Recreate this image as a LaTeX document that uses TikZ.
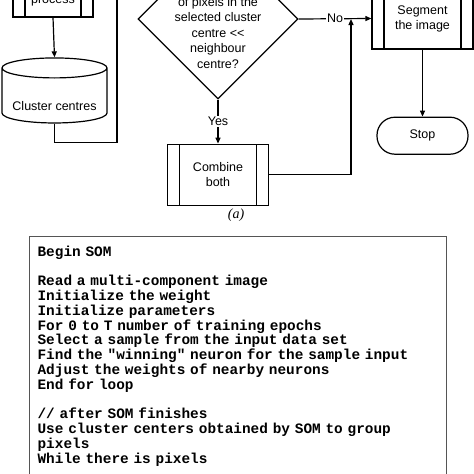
\documentclass[tikz,border=0pt]{standalone}
\usepackage{fontspec}
\setmainfont{Liberation Sans}[Ligatures=TeXOff]
\newfontfamily\codefont{Liberation Mono}[Ligatures=TeXOff]
\newfontfamily\capfont{Liberation Serif}
\usetikzlibrary{shapes.geometric, arrows.meta, positioning}
\definecolor{boxgray}{RGB}{85, 85, 85}

\begin{document}
\begin{tikzpicture}[
    x=1pt, y=-1pt,
    line width=1.2pt,
    flowtext/.style={font=\fontsize{12.5}{15}\selectfont, align=center},
    subproc/.style={draw, rectangle, flowtext, minimum width=101pt, minimum height=61pt, inner sep=0pt,
        path picture={
            \draw ([xshift=12pt]path picture bounding box.north west) -- ([xshift=12pt]path picture bounding box.south west);
            \draw ([xshift=-12pt]path picture bounding box.north east) -- ([xshift=-12pt]path picture bounding box.south east);
        }},
    store/.style={draw, cylinder, shape border rotate=90, aspect=0.22, flowtext, minimum width=105pt, inner ysep=0pt, text height=31.5pt, text depth=6.5pt},
    decision/.style={draw, diamond, minimum width=160pt, minimum height=160pt, inner sep=0pt},
    term/.style={draw, rectangle, rounded corners=18pt, flowtext, minimum width=91pt, minimum height=37pt},
    codebox/.style={anchor=north west, align=left, text width=400pt, inner xsep=8pt, inner ysep=9pt,
        font=\codefont\bfseries\fontsize{14.4}{14.8}\selectfont},
    arrow/.style={-{Triangle[length=6pt, width=5pt]}}
]
    \useasboundingbox (0,0) rectangle (474,474);
    \clip (0,0) rectangle (474,474);

    % Nodes - left column
    \node[subproc, minimum width=80pt, minimum height=0pt, text height=45pt, text depth=14pt, anchor=base] (proc) at (53,3) {process};
    \node[store, anchor=base] (cyl) at (54.5,110) {Cluster centres};

    % Nodes - decision and its branches
    \node[decision] (cmp) at (218,19) {};
    \node[flowtext, font=\fontsize{12.5}{15.5}\selectfont] (cmptxt) at (218,33) {of pixels in the\\selected cluster\\centre <<\\neighbour\\centre?};
    \node[subproc, below=44pt of cmp] (comb) {Combine\\both};
    \node[subproc] (seg) at (422.5,18.5) {Segment\\the image};
    \node[term, below=67pt of seg] (stop) {Stop};
    \node[font=\capfont\itshape\fontsize{14}{16}\selectfont] (cap) at (236,215) {(a)};

    % Pseudocode box
    \node[codebox] (som) at (29,236) {Begin SOM\\[14.8pt]
        Read a multi-component image\\
        Initialize the weight\\
        Initialize parameters\\
        For 0 to T number of training epochs\\
        Select a sample from the input data set\\
        Find the "winning" neuron for the sample input\\
        Adjust the weights of nearby neurons\\
        End for loop\\[14.8pt]
        // after SOM finishes\\
        Use cluster centers obtained by SOM to group\\
        pixels\\
        While there is pixels};
    \draw[boxgray, line width=1pt] (som.north west) rectangle ([yshift=-260pt]som.north east);

    % Arrows
    \coordinate (loopend) at (117,-10);
    \coordinate (merge) at (351,19);
    \draw[arrow] (proc.south) -- (cyl.north);
    \draw (cyl.south) -- ++(0,19) -| (loopend);
    \draw[arrow] (cmp.east) -- node[flowtext, fill=white, inner sep=1pt] {No} (seg.west);
    \draw[arrow] (cmp.south) -- node[flowtext, fill=white, inner sep=1pt] {Yes} (comb.north);
    \draw[arrow] (comb.east) -| (merge);
    \draw[arrow] (seg.south) -- (stop.north);
\end{tikzpicture}
\end{document}
